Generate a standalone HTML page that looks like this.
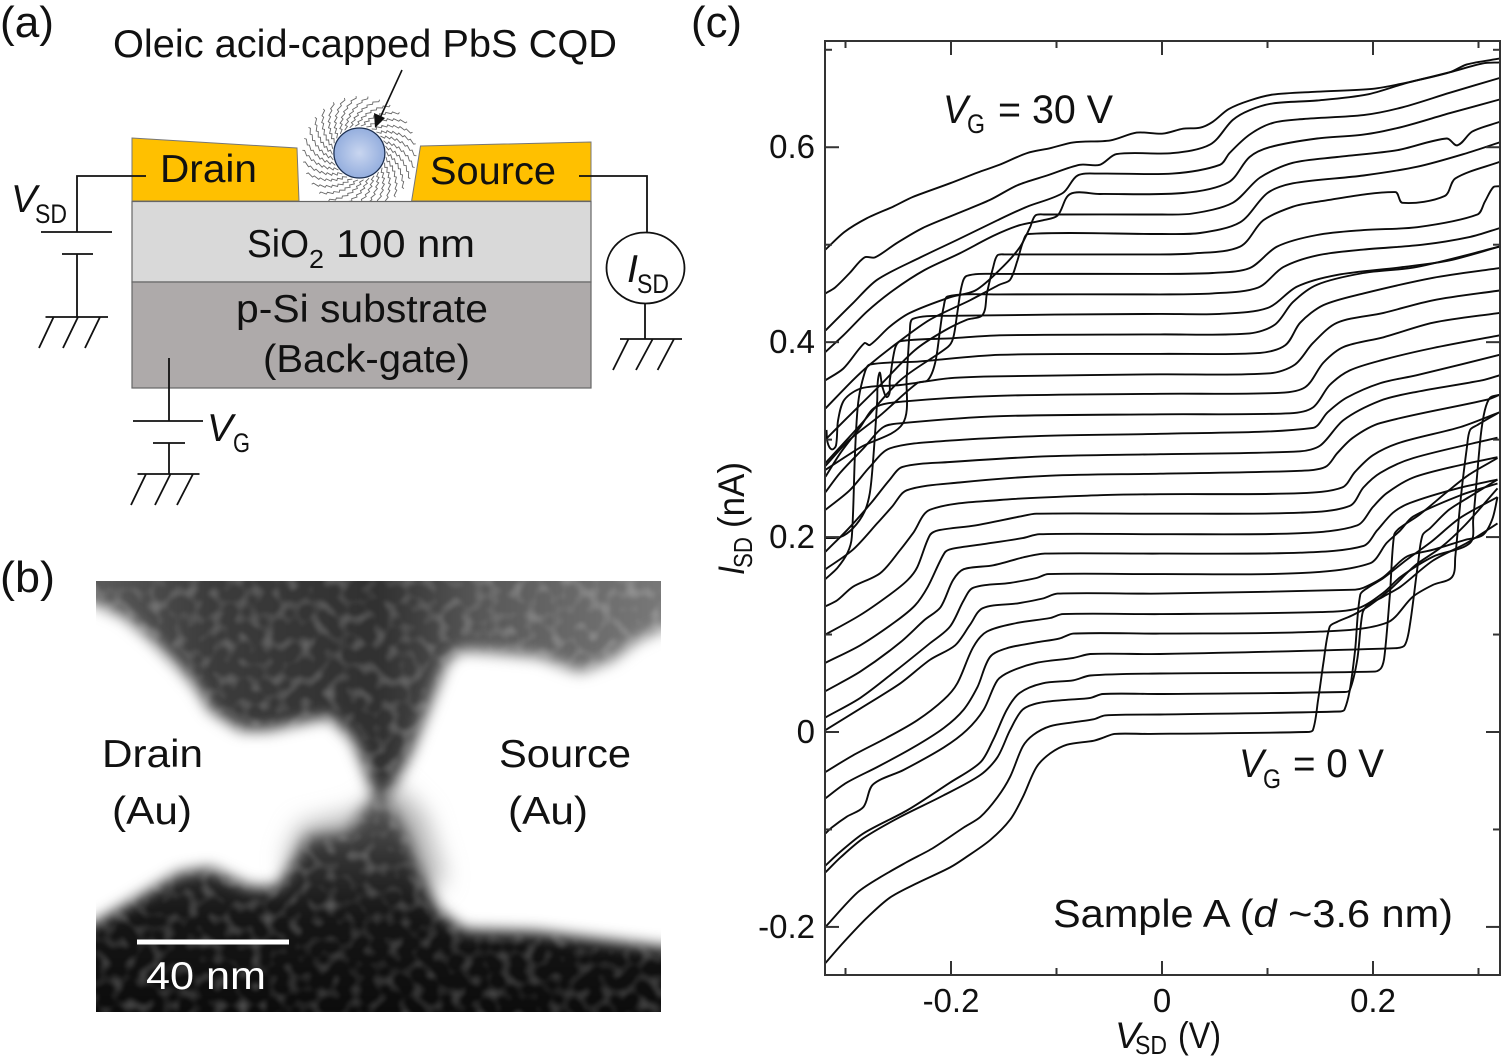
<!DOCTYPE html>
<html lang="en">
<head>
<meta charset="utf-8">
<title>PbS CQD device and Coulomb characteristics</title>
<style>
html,body{margin:0;padding:0;background:#fff;width:1501px;height:1063px;overflow:hidden}
svg{display:block;position:absolute;left:0;top:0}
text{font-family:"Liberation Sans",sans-serif;fill:#111}
.i{font-style:italic}
</style>
</head>
<body>
<svg id="fig" xmlns="http://www.w3.org/2000/svg" width="1501" height="1063" viewBox="0 0 1501 1063">
<defs>
<radialGradient id="ballGrad" cx="50%" cy="50%" r="55%"><stop offset="0" stop-color="#c9d6f0"/><stop offset="1" stop-color="#8faadc"/></radialGradient>
<clipPath id="ligClip"><rect x="280" y="80" width="160" height="121"/></clipPath>
<clipPath id="semClip"><rect x="96" y="581" width="565" height="431"/></clipPath>
<clipPath id="plotClip"><rect x="825" y="41" width="675" height="934"/></clipPath>
<linearGradient id="semTop" gradientUnits="userSpaceOnUse" x1="96" y1="0" x2="661" y2="0"><stop offset="0" stop-color="#5a5a5a"/><stop offset=".2" stop-color="#3c3c3c"/><stop offset=".5" stop-color="#303030"/><stop offset=".68" stop-color="#585858"/><stop offset="1" stop-color="#787878"/></linearGradient>
<linearGradient id="semBot" gradientUnits="userSpaceOnUse" x1="0" y1="800" x2="0" y2="1012"><stop offset="0" stop-color="#5a5a5a"/><stop offset=".3" stop-color="#2f2f2f"/><stop offset=".55" stop-color="#161616"/><stop offset="1" stop-color="#0c0c0c"/></linearGradient>
<filter id="semFilter" x="-5%" y="-5%" width="110%" height="110%" color-interpolation-filters="sRGB">
<feGaussianBlur in="SourceGraphic" stdDeviation="7.5" result="b"/>
<feTurbulence type="fractalNoise" baseFrequency="0.08" numOctaves="1" seed="7" result="n"/>
<feColorMatrix in="n" type="matrix" values="0 0 0 0 1  0 0 0 0 1  0 0 0 0 1  0.7 0 0 0 -0.33" result="w0"/>
<feGaussianBlur in="w0" stdDeviation="1.5" result="w"/>
<feComposite in="w" in2="b" operator="in" result="s"/>
<feMerge><feMergeNode in="b"/><feMergeNode in="s"/></feMerge>
</filter>
<filter id="semHalo" x="-20%" y="-20%" width="140%" height="140%"><feGaussianBlur stdDeviation="12"/></filter>
</defs>

<!-- Panel a -->
<g>
<text x="0" y="37" font-size="44" textLength="54" lengthAdjust="spacingAndGlyphs">(a)</text>
<text x="113" y="57" font-size="39" textLength="504" lengthAdjust="spacingAndGlyphs">Oleic acid-capped PbS CQD</text>
<g id="ligands" clip-path="url(#ligClip)" fill="none" stroke="#666" stroke-width="0.9"></g>
<polygon points="132,138 297,148 299,201 132,201" fill="#ffc000" stroke="#777" stroke-width="1"/>
<polygon points="591,142 420.5,146 411.6,201 591,201" fill="#ffc000" stroke="#777" stroke-width="1"/>
<rect x="132" y="201.500" width="459" height="80.500" fill="#d9d9d9" stroke="#666" stroke-width="1.200"/>
<rect x="132" y="282" width="459" height="106" fill="#aeaaaa" stroke="#666" stroke-width="1.200"/>
<ellipse cx="359.400" cy="153" rx="25.500" ry="25" fill="url(#ballGrad)" stroke="#1c2f50" stroke-width="1.300"/>
<line x1="402" y1="70" x2="380" y2="118" stroke="#111" stroke-width="1.600"/>
<polygon points="375,128 374,113 385,118" fill="#111"/>
<text x="160" y="182" font-size="39" textLength="97" lengthAdjust="spacingAndGlyphs">Drain</text>
<text x="430" y="184" font-size="39" textLength="126" lengthAdjust="spacingAndGlyphs">Source</text>
<text x="247" y="257" font-size="39" textLength="62" lengthAdjust="spacingAndGlyphs">SiO</text>
<text x="309" y="268" font-size="26" textLength="15" lengthAdjust="spacingAndGlyphs">2</text>
<text x="336" y="257" font-size="39" textLength="139" lengthAdjust="spacingAndGlyphs">100 nm</text>
<text x="236" y="322" font-size="39" textLength="252" lengthAdjust="spacingAndGlyphs">p-Si substrate</text>
<text x="263" y="372" font-size="39" textLength="207" lengthAdjust="spacingAndGlyphs">(Back-gate)</text>
<g fill="none" stroke="#111" stroke-width="1.800">
<polyline points="146,176 77,176 77,232"/>
<line x1="41" y1="232" x2="112" y2="232"/>
<line x1="62" y1="254" x2="93" y2="254"/>
<line x1="77" y1="254" x2="77" y2="317"/>
<path d="M45.500 317H108M53.600 317L39 348M78 317L63 348M100 317L85 348"/>
<polyline points="579,176 647,176 647,233"/>
<ellipse cx="645.500" cy="268" rx="39" ry="35.500" fill="#fff"/>
<line x1="645" y1="303" x2="645" y2="339"/>
<path d="M620 339H682M628.500 339L613 370M652.700 339L636 370M674 339L657.600 370"/>
<line x1="169" y1="358" x2="169" y2="421"/>
<line x1="133" y1="421" x2="203" y2="421"/>
<line x1="153" y1="443" x2="185" y2="443"/>
<line x1="169" y1="443" x2="169" y2="474"/>
<path d="M137.500 474H199.500M146 474L131 505M170.500 474L155 505M193 474L177 505"/>
</g>
<text x="11" y="212" font-size="39" class="i" textLength="26" lengthAdjust="spacingAndGlyphs">V</text>
<text x="35" y="223" font-size="27" textLength="32" lengthAdjust="spacingAndGlyphs">SD</text>
<text x="627" y="282" font-size="39" class="i" textLength="11" lengthAdjust="spacingAndGlyphs">I</text>
<text x="637" y="293" font-size="27" textLength="32" lengthAdjust="spacingAndGlyphs">SD</text>
<text x="207" y="441" font-size="39" class="i" textLength="26" lengthAdjust="spacingAndGlyphs">V</text>
<text x="233" y="452" font-size="27" textLength="17" lengthAdjust="spacingAndGlyphs">G</text>
</g>

<!-- Panel b -->
<g>
<text x="0" y="592" font-size="44" textLength="55" lengthAdjust="spacingAndGlyphs">(b)</text>
<rect x="96" y="581" width="565" height="431" fill="#fff"/>
<g clip-path="url(#semClip)">
<path d="M285,860 L300,825 L355,812 L395,785 L425,815 L445,880 L410,900 L300,890 Z" fill="#b5b5b5" filter="url(#semHalo)"/>
<g filter="url(#semFilter)">
<path d="M60,540 L700,540 L700,615 L661,630 L638,640 L612,660 L580,672 L540,657 L500,653 L460,650 L446,663 L429,707 L411,753 L393,787 L381,803 L375,797 L364,767 L353,740 L330,717 L304,722 L268,730 L241,730 L210,710 L196,687 L179,667 L152,640 L125,617 L95,603 L60,590 Z" fill="url(#semTop)"/>
<path d="M60,940 L95,923 L134,900 L179,873 L210,868 L250,887 L277,887 L295,860 L308,837 L348,833 L366,807 L381,797 L393,810 L406,833 L420,873 L438,910 L464,930 L536,932 L603,940 L661,947 L700,950 L700,1060 L60,1060 Z" fill="url(#semBot)"/>
</g>
</g>
<text x="102" y="767" font-size="39" textLength="101" lengthAdjust="spacingAndGlyphs">Drain</text>
<text x="112" y="824" font-size="39" textLength="80" lengthAdjust="spacingAndGlyphs">(Au)</text>
<text x="499" y="767" font-size="39" textLength="132" lengthAdjust="spacingAndGlyphs">Source</text>
<text x="508" y="824" font-size="39" textLength="80" lengthAdjust="spacingAndGlyphs">(Au)</text>
<rect x="137" y="939.500" width="152" height="5" fill="#fff"/>
<text x="146" y="989" font-size="39" textLength="120" lengthAdjust="spacingAndGlyphs" style="fill:#fff">40 nm</text>
</g>

<!-- Panel c -->
<g id="panelC">
<text x="691" y="37" font-size="44" textLength="51" lengthAdjust="spacingAndGlyphs">(c)</text>
<g id="series" clip-path="url(#plotClip)" fill="none" stroke="#0c0c0c" stroke-width="1.900" stroke-linejoin="round"></g>
<g id="axes"></g>
<g>
<text x="1115" y="1048" font-size="37" class="i" textLength="25" lengthAdjust="spacingAndGlyphs">V</text>
<text x="1135" y="1054" font-size="26" textLength="32" lengthAdjust="spacingAndGlyphs">SD</text>
<text x="1178" y="1048" font-size="37" textLength="43" lengthAdjust="spacingAndGlyphs">(V)</text>
</g>
<g transform="translate(744,575) rotate(-90)">
<text x="0" y="0" font-size="37" class="i" textLength="9" lengthAdjust="spacingAndGlyphs">I</text>
<text x="7" y="8" font-size="26" textLength="31" lengthAdjust="spacingAndGlyphs">SD</text>
<text x="47" y="0" font-size="37" textLength="66" lengthAdjust="spacingAndGlyphs">(nA)</text>
</g>
<text x="943" y="123" font-size="40" class="i" textLength="25" lengthAdjust="spacingAndGlyphs">V</text>
<text x="967" y="133" font-size="27" textLength="18" lengthAdjust="spacingAndGlyphs">G</text>
<text x="998" y="123" font-size="40" textLength="115" lengthAdjust="spacingAndGlyphs">= 30 V</text>
<text x="1239" y="777" font-size="40" class="i" textLength="25" lengthAdjust="spacingAndGlyphs">V</text>
<text x="1263" y="788" font-size="27" textLength="18" lengthAdjust="spacingAndGlyphs">G</text>
<text x="1293" y="777" font-size="40" textLength="91" lengthAdjust="spacingAndGlyphs">= 0 V</text>
<text x="1053" y="927" font-size="39" textLength="400" lengthAdjust="spacingAndGlyphs">Sample A (<tspan class="i">d</tspan> ~3.6 nm)</text>
</g>
</svg>

<script>
// Axis tick values
const xMajorTicks = [-0.2, 0, 0.2];
const xMinorTicks = [-0.3, -0.1, 0.1, 0.3];
const yMajorTicks = [-0.2, 0, 0.2, 0.4, 0.6];
const yMinorTicks = [-0.1, 0.1, 0.3, 0.5, 0.7];
const xTickLabels = ['-0.2', '0', '0.2'];
const yTickLabels = ['-0.2', '0', '0.2', '0.4', '0.6'];

// Traces: [V_SD in mV, I_SD in pA], one per gate voltage
const curveVg0 = [[-319,-237],[-302,-216],[-280,-191],[-258,-170],[-232,-155],[-201,-139],[-185,-128],[-163,-111],[-144,-90],[-132,-67],[-119,-36],[-106,-22],[-90,-13],[-65,-9],[-56,-6],[-45,-2],[-11,-2],[137,0],[143,2],[148,33],[153,71],[159,108],[166,113],[181,120],[197,130],[216,146],[240,171],[264,189],[287,212],[318,250]];
const curveVg1 = [[-319,-200],[-289,-165],[-267,-149],[-241,-133],[-217,-119],[-188,-98],[-172,-87],[-156,-67],[-144,-46],[-132,-15],[-122,-3],[-106,6],[-84,10],[-65,13],[-54,17],[-2,18],[169,21],[173,23],[178,43],[183,84],[188,141],[195,148],[210,158],[231,176],[255,195],[283,220],[318,241]];
const curveVg2 = [[-319,-144],[-305,-129],[-283,-109],[-248,-87],[-207,-65],[-172,-44],[-156,-26],[-144,2],[-132,23],[-116,30],[-90,33],[-68,35],[-56,39],[-2,39],[173,41],[178,43],[185,74],[190,122],[195,130],[210,139],[226,149],[257,176],[289,194],[318,214]];
const curveVg3 = [[-319,-137],[-305,-123],[-283,-104],[-241,-80],[-201,-52],[-172,-31],[-160,-8],[-147,23],[-135,40],[-113,50],[-84,53],[-68,58],[-2,60],[202,62],[208,66],[211,79],[216,141],[220,202],[225,209],[244,223],[272,248],[291,264],[318,281]];
const curveVg4 = [[-319,-104],[-313,-98],[-299,-87],[-283,-77],[-274,-54],[-245,-39],[-207,-16],[-185,2],[-169,23],[-156,53],[-144,62],[-119,71],[-84,76],[-68,80],[-2,80],[221,86],[230,89],[235,110],[243,176],[247,202],[254,209],[272,228],[291,241],[318,259]];
const curveVg5 = [[-319,-68],[-299,-52],[-270,-36],[-236,-16],[-207,4],[-188,23],[-175,46],[-163,77],[-147,86],[-119,92],[-97,96],[-84,101],[-2,101],[150,103],[213,112],[238,139],[257,151],[275,159],[278,180],[283,238],[289,292],[292,310],[299,315],[318,327]];
const curveVg6 = [[-319,-41],[-293,-24],[-261,-6],[-232,12],[-207,33],[-194,50],[-179,87],[-166,103],[-137,112],[-106,117],[-94,121],[-2,121],[150,123],[186,127],[210,143],[226,159],[257,180],[292,194],[295,218],[302,303],[306,330],[311,343],[320,346]];
const curveVg7 = [[-319,2],[-286,24],[-248,50],[-220,74],[-196,89],[-182,110],[-170,127],[-137,132],[-113,137],[-99,142],[-2,142],[183,146],[191,148],[210,159],[232,180],[257,187],[287,197],[304,202],[313,218],[318,241]];
const curveVg8 = [[-319,15],[-286,35],[-251,64],[-220,91],[-201,108],[-188,135],[-179,148],[-144,153],[-119,158],[-108,162],[-2,162],[131,163],[197,173],[213,194],[226,207],[238,221],[283,243],[318,255]];
const curveVg9 = [[-319,42],[-286,62],[-248,92],[-225,115],[-210,128],[-198,156],[-188,167],[-160,171],[-132,179],[-111,183],[-2,183],[131,184],[191,191],[204,207],[219,225],[235,235],[280,250],[318,259]];
const curveVg10 = [[-319,71],[-286,89],[-253,113],[-234,130],[-222,149],[-206,184],[-199,188],[-168,193],[-132,199],[-116,203],[-2,203],[131,204],[185,212],[200,231],[213,245],[238,261],[283,274],[318,282]];
const curveVg11 = [[-319,100],[-286,120],[-258,141],[-241,156],[-232,169],[-220,202],[-212,207],[-177,212],[-135,221],[-119,224],[-2,224],[131,225],[178,232],[191,251],[207,266],[238,281],[318,302]];
const curveVg12 = [[-319,129],[-308,135],[-293,149],[-267,163],[-248,187],[-236,204],[-220,228],[-154,238],[-59,243],[-2,244],[131,245],[171,251],[183,267],[200,284],[226,297],[283,313],[320,328]];
const curveVg13 = [[-319,167],[-293,187],[-270,214],[-256,231],[-242,248],[-192,256],[-106,263],[-2,265],[131,268],[155,272],[166,286],[181,302],[207,317],[308,341],[320,346]];
const curveVg14 = [[-319,185],[-296,210],[-275,236],[-258,259],[-246,272],[-201,277],[-106,283],[-2,285],[131,288],[150,294],[172,320],[207,340],[241,349],[304,361],[320,366]];
const curveVg15 = [[-319,228],[-296,248],[-277,272],[-258,291],[-201,299],[-106,304],[-2,306],[143,312],[157,328],[175,343],[207,358],[241,366],[283,377],[320,387]];
const curveVg16 = [[-319,246],[-305,266],[-283,291],[-264,313],[-246,317],[-154,324],[-2,326],[121,327],[143,333],[159,356],[178,371],[210,382],[257,394],[320,407]];
const curveVg17 = [[-319,262],[-305,286],[-286,313],[-272,333],[-246,339],[-154,345],[-2,347],[112,348],[136,354],[153,379],[172,395],[210,405],[257,420],[320,430]];
const curveVg18 = [[-318,310],[-317,297],[-313,290],[-309,294],[-307,320],[-301,341],[-284,353],[-248,356],[-201,363],[-154,365],[-2,367],[102,368],[126,377],[143,399],[166,420],[210,430],[257,443],[320,453]];
const curveVg19 = [[-319,157],[-308,168],[-298,184],[-294,200],[-291,286],[-288,338],[-282,368],[-277,377],[-232,380],[-154,387],[-2,388],[93,389],[117,397],[131,420],[153,438],[191,450],[257,466],[320,476]];
const curveVg20 = [[-319,199],[-305,200],[-293,209],[-282,226],[-277,245],[-274,276],[-270,338],[-268,368],[-265,354],[-260,344],[-258,361],[-253,394],[-248,401],[-199,404],[-154,407],[-2,408],[83,409],[107,418],[124,441],[147,459],[191,471],[241,477],[320,498]];
const curveVg21 = [[-319,269],[-286,292],[-246,316],[-242,364],[-239,412],[-236,424],[-201,427],[-2,429],[55,429],[100,435],[128,457],[166,469],[228,477],[273,484],[320,498]];
const curveVg22 = [[-319,273],[-296,300],[-267,325],[-232,358],[-222,361],[-215,379],[-210,416],[-207,436],[-203,447],[-154,449],[-2,449],[48,450],[91,456],[115,477],[147,489],[191,495],[247,500],[292,508],[320,517]];
const curveVg23 = [[-319,276],[-286,315],[-248,361],[-203,395],[-198,404],[-194,430],[-190,457],[-185,468],[-154,470],[-2,470],[48,471],[83,476],[109,498],[147,510],[191,515],[242,518],[299,531],[306,544],[314,559],[320,560]];
const curveVg24 = [[-319,300],[-296,325],[-267,356],[-234,392],[-206,412],[-185,423],[-170,428],[-166,450],[-160,477],[-156,489],[-149,490],[-2,490],[29,491],[74,498],[96,525],[124,539],[147,544],[221,554],[228,543],[268,550],[278,568],[320,585]];
const curveVg25 = [[-319,332],[-293,361],[-277,377],[-250,400],[-220,423],[-182,443],[-154,459],[-144,464],[-137,484],[-132,502],[-127,511],[-2,511],[36,512],[74,523],[100,553],[124,563],[191,571],[242,580],[289,594],[320,605]];
const curveVg26 = [[-319,361],[-302,373],[-282,399],[-277,397],[-258,416],[-239,430],[-201,446],[-177,453],[-154,474],[-135,497],[-125,518],[-120,530],[-111,531],[-2,531],[29,532],[67,543],[93,569],[124,584],[166,590],[223,597],[270,609],[280,602],[294,616],[320,626]];
const curveVg27 = [[-319,390],[-302,407],[-280,431],[-255,453],[-225,474],[-192,491],[-160,509],[-135,520],[-113,525],[-99,530],[-87,552],[-59,552],[20,553],[63,564],[83,590],[102,600],[147,609],[191,613],[228,621],[273,635],[320,649]];
const curveVg28 = [[-319,412],[-293,440],[-270,464],[-229,487],[-194,505],[-156,525],[-128,539],[-94,553],[-80,571],[-59,573],[10,573],[55,582],[64,594],[83,613],[105,625],[134,629],[191,633],[228,641],[273,656],[320,671]];
const curveVg29 = [[-319,450],[-310,456],[-296,471],[-282,487],[-272,487],[-251,502],[-227,517],[-194,532],[-163,546],[-137,561],[-109,571],[-78,582],[-59,582],[-43,593],[10,594],[46,603],[67,628],[83,638],[105,645],[147,648],[194,654],[232,666],[273,677],[304,686],[320,687]];
const curveVg30 = [[-319,495],[-301,513],[-280,527],[-255,539],[-236,549],[-201,563],[-175,574],[-154,582],[-128,594],[-106,599],[-84,605],[-49,607],[-24,615],[1,614],[20,619],[36,620],[48,626],[63,639],[83,648],[105,654],[147,657],[200,660],[235,667],[273,677],[289,685],[320,691]];
const curves = [curveVg0,curveVg1,curveVg2,curveVg3,curveVg4,curveVg5,curveVg6,curveVg7,curveVg8,curveVg9,curveVg10,curveVg11,curveVg12,curveVg13,curveVg14,curveVg15,curveVg16,curveVg17,curveVg18,curveVg19,curveVg20,curveVg21,curveVg22,curveVg23,curveVg24,curveVg25,curveVg26,curveVg27,curveVg28,curveVg29,curveVg30];

const NS = 'http://www.w3.org/2000/svg';
const plot = {left: 825, right: 1500, top: 41, bottom: 975};
function xScale(volts){ return 1162 + volts * 1055; }
function yScale(nanoamps){ return 732 - nanoamps * 974.6; }
function tangentAt(a, b){
  const dx = b[0] - a[0], dy = b[1] - a[1];
  const len = Math.hypot(dx, dy) || 1;
  return [dx / len, dy / len];
}
function smoothPath(pts){
  let d = 'M' + pts[0][0].toFixed(1) + ' ' + pts[0][1].toFixed(1);
  for (let i = 0; i < pts.length - 1; i++){
    const p0 = pts[Math.max(i - 1, 0)], p1 = pts[i], p2 = pts[i + 1], p3 = pts[Math.min(i + 2, pts.length - 1)];
    const seg = Math.hypot(p2[0] - p1[0], p2[1] - p1[1]) * 0.3;
    const t1 = tangentAt(p0, p2), t2 = tangentAt(p1, p3);
    const c1x = p1[0] + t1[0] * seg, c1y = p1[1] + t1[1] * seg;
    const c2x = p2[0] - t2[0] * seg, c2y = p2[1] - t2[1] * seg;
    d += 'C' + c1x.toFixed(1) + ' ' + c1y.toFixed(1) + ' ' + c2x.toFixed(1) + ' ' + c2y.toFixed(1) + ' ' + p2[0].toFixed(1) + ' ' + p2[1].toFixed(1);
  }
  return d;
}
function lineEl(parent, x1, y1, x2, y2){
  const el = document.createElementNS(NS, 'line');
  el.setAttribute('x1', x1); el.setAttribute('y1', y1);
  el.setAttribute('x2', x2); el.setAttribute('y2', y2);
  el.setAttribute('stroke', '#333');
  el.setAttribute('stroke-width', '2');
  parent.appendChild(el);
  return el;
}
function labelEl(parent, x, y, anchor, txt){
  const el = document.createElementNS(NS, 'text');
  el.setAttribute('x', x); el.setAttribute('y', y);
  el.setAttribute('font-size', '33');
  el.setAttribute('text-anchor', anchor);
  el.textContent = txt;
  parent.appendChild(el);
  return el;
}

// Series
const seriesGroup = document.getElementById('series');
curves.forEach(function(curve, vg){
  const pts = curve.map(function(p){ return [xScale(p[0] / 1000), yScale(p[1] / 1000)]; });
  const path = document.createElementNS(NS, 'path');
  path.setAttribute('d', smoothPath(pts));
  
  
  seriesGroup.appendChild(path);
});

// Axes
const axes = document.getElementById('axes');
const frame = document.createElementNS(NS, 'rect');
frame.setAttribute('x', plot.left); frame.setAttribute('y', plot.top);
frame.setAttribute('width', plot.right - plot.left); frame.setAttribute('height', plot.bottom - plot.top);
frame.setAttribute('fill', 'none'); frame.setAttribute('stroke', '#333'); frame.setAttribute('stroke-width', '2');


axes.appendChild(frame);

xMajorTicks.forEach(function(v, i){
  const x = xScale(v);
  const bottomTick = lineEl(axes, x, plot.bottom, x, plot.bottom - 14);
  
  
  const topTick = lineEl(axes, x, plot.top, x, plot.top + 14);
  
  
  const lab = labelEl(axes, x, 1012, 'middle', xTickLabels[i]);
  
  
});
xMinorTicks.forEach(function(v){
  const x = xScale(v);
  const bottomTick = lineEl(axes, x, plot.bottom, x, plot.bottom - 7);
  
  
  const topTick = lineEl(axes, x, plot.top, x, plot.top + 7);
  
  
});
yMajorTicks.forEach(function(v, i){
  const y = yScale(v);
  const leftTick = lineEl(axes, plot.left, y, plot.left + 14, y);
  
  
  const rightTick = lineEl(axes, plot.right, y, plot.right - 14, y);
  
  
  const lab = labelEl(axes, 815, y + 11, 'end', yTickLabels[i]);
  
  
});
yMinorTicks.forEach(function(v){
  const y = yScale(v);
  const leftTick = lineEl(axes, plot.left, y, plot.left + 7, y);
  
  
  const rightTick = lineEl(axes, plot.right, y, plot.right - 7, y);
  
  
});

// Decorative ligand shell on the quantum dot
const ligandGroup = document.getElementById('ligands');
const ligandCount = 30;
for (let n = 0; n < ligandCount; n++){
  const base = n / ligandCount * Math.PI * 2;
  let pts = '';
  for (let s = 0; s <= 14; s++){
    const t = s / 14;
    const r = 27 + t * 30;
    const a = base + t * 0.7;
    const w = (s % 2 ? 1.4 : -1.4);
    const x = 359.4 + r * Math.cos(a) - w * Math.sin(a);
    const y = 153 + r * Math.sin(a) + w * Math.cos(a);
    pts += x.toFixed(1) + ',' + y.toFixed(1) + ' ';
  }
  const lig = document.createElementNS(NS, 'polyline');
  lig.setAttribute('points', pts);
  
  
  ligandGroup.appendChild(lig);
}
</script>
</body>
</html>
